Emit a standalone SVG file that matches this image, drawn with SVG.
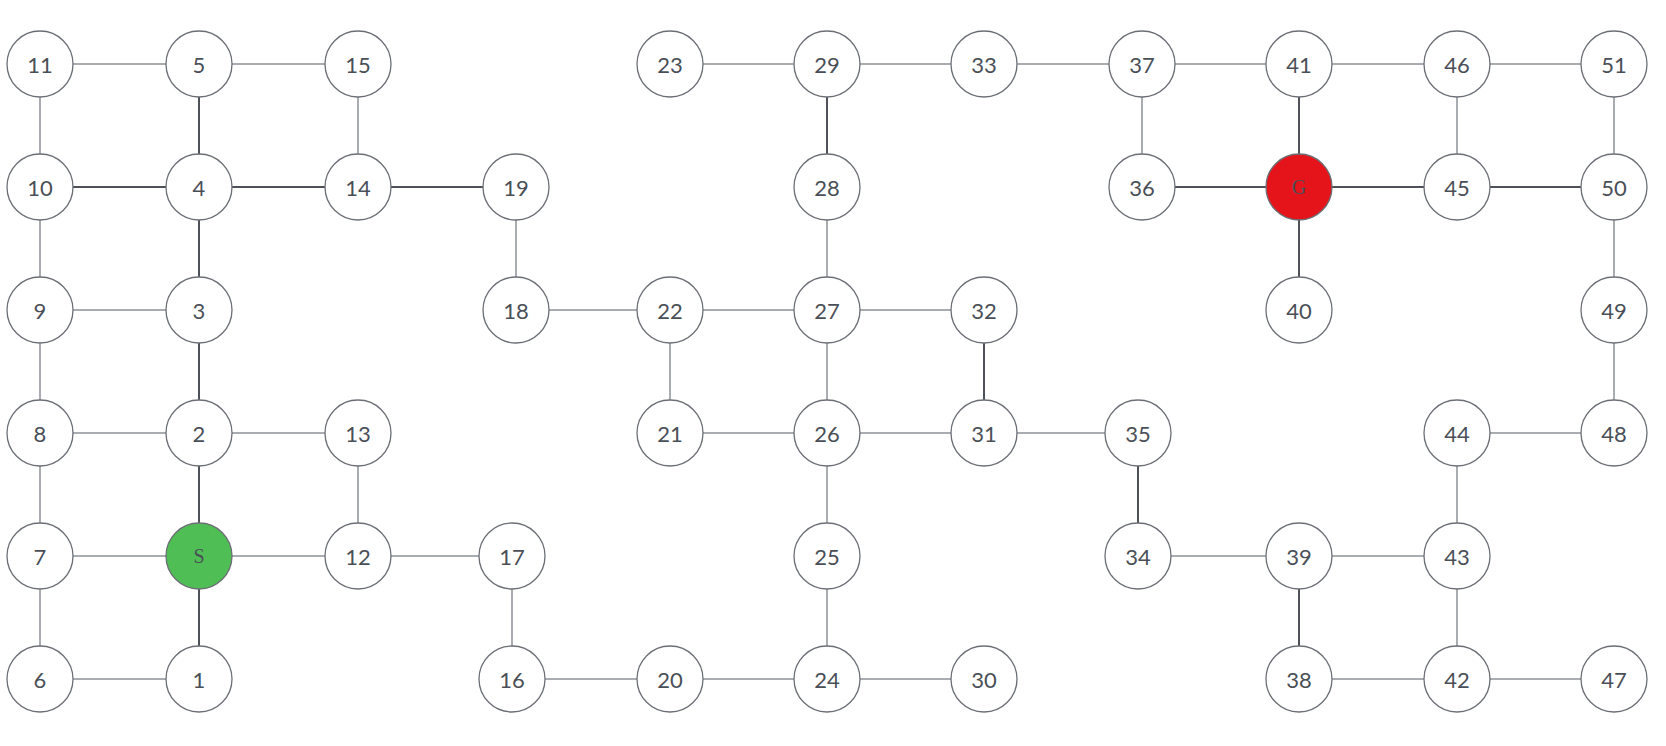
<svg xmlns="http://www.w3.org/2000/svg" width="1666" height="746" viewBox="0 0 1666 746">
<style>
.n circle{fill:#fff;stroke:#6b6f75;stroke-width:1.3}
.n text{font-family:Lato,"Liberation Sans",sans-serif;font-size:22px;fill:#4a4f57;text-anchor:middle;dominant-baseline:central}
#edges line{stroke:#a9acb0;stroke-width:2}
#edges line.d{stroke:#4e5258}
.sg text{font-family:"Liberation Serif",serif;font-size:20px}
</style>
<rect width="1666" height="746" fill="#fff"/>
<g id="edges">
<line x1="40" y1="64" x2="199" y2="64"/><line x1="199" y1="64" x2="358" y2="64"/>
<line x1="40" y1="64" x2="40" y2="187"/><line class="d" x1="199" y1="64" x2="199" y2="187"/><line x1="358" y1="64" x2="358" y2="187"/>
<line class="d" x1="40" y1="187" x2="199" y2="187"/><line class="d" x1="199" y1="187" x2="358" y2="187"/><line class="d" x1="358" y1="187" x2="516" y2="187"/>
<line x1="40" y1="187" x2="40" y2="310"/><line class="d" x1="199" y1="187" x2="199" y2="310"/><line x1="516" y1="187" x2="516" y2="310"/>
<line x1="40" y1="310" x2="199" y2="310"/><line x1="40" y1="310" x2="40" y2="433"/><line class="d" x1="199" y1="310" x2="199" y2="433"/>
<line x1="40" y1="433" x2="199" y2="433"/><line x1="199" y1="433" x2="358" y2="433"/>
<line x1="40" y1="433" x2="40" y2="556"/><line class="d" x1="199" y1="433" x2="199" y2="556"/><line x1="358" y1="433" x2="358" y2="556"/>
<line x1="40" y1="556" x2="199" y2="556"/><line x1="199" y1="556" x2="358" y2="556"/><line x1="358" y1="556" x2="512" y2="556"/>
<line x1="40" y1="556" x2="40" y2="679"/><line class="d" x1="199" y1="556" x2="199" y2="679"/><line x1="40" y1="679" x2="199" y2="679"/>
<line x1="512" y1="556" x2="512" y2="679"/><line x1="512" y1="679" x2="670" y2="679"/><line x1="670" y1="679" x2="827" y2="679"/><line x1="827" y1="679" x2="984" y2="679"/>
<line x1="827" y1="556" x2="827" y2="679"/><line x1="827" y1="433" x2="827" y2="556"/><line x1="827" y1="310" x2="827" y2="433"/>
<line x1="670" y1="433" x2="827" y2="433"/><line x1="827" y1="433" x2="984" y2="433"/><line x1="984" y1="433" x2="1138" y2="433"/>
<line class="d" x1="1138" y1="433" x2="1138" y2="556"/><line x1="1138" y1="556" x2="1299" y2="556"/><line x1="1299" y1="556" x2="1457" y2="556"/>
<line class="d" x1="1299" y1="556" x2="1299" y2="679"/><line x1="1299" y1="679" x2="1457" y2="679"/><line x1="1457" y1="679" x2="1614" y2="679"/>
<line x1="1457" y1="556" x2="1457" y2="679"/><line x1="1457" y1="433" x2="1457" y2="556"/><line x1="1457" y1="433" x2="1614" y2="433"/>
<line x1="1614" y1="310" x2="1614" y2="433"/><line x1="1614" y1="187" x2="1614" y2="310"/><line x1="1614" y1="64" x2="1614" y2="187"/>
<line x1="1457" y1="64" x2="1614" y2="64"/><line x1="1457" y1="64" x2="1457" y2="187"/><line class="d" x1="1457" y1="187" x2="1614" y2="187"/>
<line x1="1299" y1="64" x2="1457" y2="64"/><line class="d" x1="1299" y1="187" x2="1457" y2="187"/><line class="d" x1="1299" y1="64" x2="1299" y2="187"/>
<line class="d" x1="1299" y1="187" x2="1299" y2="310"/><line class="d" x1="1142" y1="187" x2="1299" y2="187"/>
<line x1="1142" y1="64" x2="1142" y2="187"/><line x1="1142" y1="64" x2="1299" y2="64"/><line x1="984" y1="64" x2="1142" y2="64"/>
<line x1="827" y1="64" x2="984" y2="64"/><line x1="670" y1="64" x2="827" y2="64"/><line class="d" x1="827" y1="64" x2="827" y2="187"/>
<line x1="827" y1="187" x2="827" y2="310"/><line x1="827" y1="310" x2="984" y2="310"/><line class="d" x1="984" y1="310" x2="984" y2="433"/>
<line x1="670" y1="310" x2="827" y2="310"/><line x1="516" y1="310" x2="670" y2="310"/><line x1="670" y1="310" x2="670" y2="433"/>
</g>
<g class="n" id="n11"><circle cx="40" cy="64" r="33"/><text x="40" y="64">11</text></g>
<g class="n" id="n5"><circle cx="199" cy="64" r="33"/><text x="199" y="64">5</text></g>
<g class="n" id="n15"><circle cx="358" cy="64" r="33"/><text x="358" y="64">15</text></g>
<g class="n" id="n23"><circle cx="670" cy="64" r="33"/><text x="670" y="64">23</text></g>
<g class="n" id="n29"><circle cx="827" cy="64" r="33"/><text x="827" y="64">29</text></g>
<g class="n" id="n33"><circle cx="984" cy="64" r="33"/><text x="984" y="64">33</text></g>
<g class="n" id="n37"><circle cx="1142" cy="64" r="33"/><text x="1142" y="64">37</text></g>
<g class="n" id="n41"><circle cx="1299" cy="64" r="33"/><text x="1299" y="64">41</text></g>
<g class="n" id="n46"><circle cx="1457" cy="64" r="33"/><text x="1457" y="64">46</text></g>
<g class="n" id="n51"><circle cx="1614" cy="64" r="33"/><text x="1614" y="64">51</text></g>
<g class="n" id="n10"><circle cx="40" cy="187" r="33"/><text x="40" y="187">10</text></g>
<g class="n" id="n4"><circle cx="199" cy="187" r="33"/><text x="199" y="187">4</text></g>
<g class="n" id="n14"><circle cx="358" cy="187" r="33"/><text x="358" y="187">14</text></g>
<g class="n" id="n19"><circle cx="516" cy="187" r="33"/><text x="516" y="187">19</text></g>
<g class="n" id="n28"><circle cx="827" cy="187" r="33"/><text x="827" y="187">28</text></g>
<g class="n" id="n36"><circle cx="1142" cy="187" r="33"/><text x="1142" y="187">36</text></g>
<g class="n sg" id="nG"><circle cx="1299" cy="187" r="33" style="fill:#e5141b"/><text x="1299" y="187">G</text></g>
<g class="n" id="n45"><circle cx="1457" cy="187" r="33"/><text x="1457" y="187">45</text></g>
<g class="n" id="n50"><circle cx="1614" cy="187" r="33"/><text x="1614" y="187">50</text></g>
<g class="n" id="n9"><circle cx="40" cy="310" r="33"/><text x="40" y="310">9</text></g>
<g class="n" id="n3"><circle cx="199" cy="310" r="33"/><text x="199" y="310">3</text></g>
<g class="n" id="n18"><circle cx="516" cy="310" r="33"/><text x="516" y="310">18</text></g>
<g class="n" id="n22"><circle cx="670" cy="310" r="33"/><text x="670" y="310">22</text></g>
<g class="n" id="n27"><circle cx="827" cy="310" r="33"/><text x="827" y="310">27</text></g>
<g class="n" id="n32"><circle cx="984" cy="310" r="33"/><text x="984" y="310">32</text></g>
<g class="n" id="n40"><circle cx="1299" cy="310" r="33"/><text x="1299" y="310">40</text></g>
<g class="n" id="n49"><circle cx="1614" cy="310" r="33"/><text x="1614" y="310">49</text></g>
<g class="n" id="n8"><circle cx="40" cy="433" r="33"/><text x="40" y="433">8</text></g>
<g class="n" id="n2"><circle cx="199" cy="433" r="33"/><text x="199" y="433">2</text></g>
<g class="n" id="n13"><circle cx="358" cy="433" r="33"/><text x="358" y="433">13</text></g>
<g class="n" id="n21"><circle cx="670" cy="433" r="33"/><text x="670" y="433">21</text></g>
<g class="n" id="n26"><circle cx="827" cy="433" r="33"/><text x="827" y="433">26</text></g>
<g class="n" id="n31"><circle cx="984" cy="433" r="33"/><text x="984" y="433">31</text></g>
<g class="n" id="n35"><circle cx="1138" cy="433" r="33"/><text x="1138" y="433">35</text></g>
<g class="n" id="n44"><circle cx="1457" cy="433" r="33"/><text x="1457" y="433">44</text></g>
<g class="n" id="n48"><circle cx="1614" cy="433" r="33"/><text x="1614" y="433">48</text></g>
<g class="n" id="n7"><circle cx="40" cy="556" r="33"/><text x="40" y="556">7</text></g>
<g class="n sg" id="nS"><circle cx="199" cy="556" r="33" style="fill:#4fbf55"/><text x="199" y="556">S</text></g>
<g class="n" id="n12"><circle cx="358" cy="556" r="33"/><text x="358" y="556">12</text></g>
<g class="n" id="n17"><circle cx="512" cy="556" r="33"/><text x="512" y="556">17</text></g>
<g class="n" id="n25"><circle cx="827" cy="556" r="33"/><text x="827" y="556">25</text></g>
<g class="n" id="n34"><circle cx="1138" cy="556" r="33"/><text x="1138" y="556">34</text></g>
<g class="n" id="n39"><circle cx="1299" cy="556" r="33"/><text x="1299" y="556">39</text></g>
<g class="n" id="n43"><circle cx="1457" cy="556" r="33"/><text x="1457" y="556">43</text></g>
<g class="n" id="n6"><circle cx="40" cy="679" r="33"/><text x="40" y="679">6</text></g>
<g class="n" id="n1"><circle cx="199" cy="679" r="33"/><text x="199" y="679">1</text></g>
<g class="n" id="n16"><circle cx="512" cy="679" r="33"/><text x="512" y="679">16</text></g>
<g class="n" id="n20"><circle cx="670" cy="679" r="33"/><text x="670" y="679">20</text></g>
<g class="n" id="n24"><circle cx="827" cy="679" r="33"/><text x="827" y="679">24</text></g>
<g class="n" id="n30"><circle cx="984" cy="679" r="33"/><text x="984" y="679">30</text></g>
<g class="n" id="n38"><circle cx="1299" cy="679" r="33"/><text x="1299" y="679">38</text></g>
<g class="n" id="n42"><circle cx="1457" cy="679" r="33"/><text x="1457" y="679">42</text></g>
<g class="n" id="n47"><circle cx="1614" cy="679" r="33"/><text x="1614" y="679">47</text></g>
</svg>
